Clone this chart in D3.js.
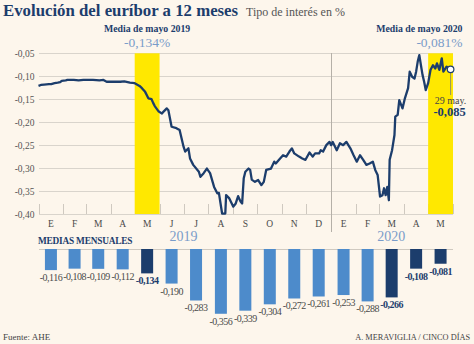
<!DOCTYPE html>
<html lang="es">
<head>
<meta charset="utf-8">
<script src="https://cdn.jsdelivr.net/npm/d3@7"></script>
<style>
  html, body { margin: 0; padding: 0; background: #fdf6ec; }
  svg { display: block; font-family: "Liberation Serif", "DejaVu Serif", serif; }
</style>
</head>
<body>
<svg id="chart" width="474" height="344"></svg>
<script>
// Euríbor a 12 meses, cotización diaria (fechas y valores en %)
const lineDates = [
  "2019-01-01","2019-01-04","2019-01-08","2019-01-14","2019-01-17","2019-01-21","2019-01-25","2019-01-28","2019-01-30",
  "2019-02-04","2019-02-06","2019-02-14","2019-02-20","2019-02-26",
  "2019-03-04","2019-03-10","2019-03-18","2019-03-23","2019-03-27",
  "2019-04-03","2019-04-13","2019-04-18","2019-04-25",
  "2019-05-01","2019-05-07","2019-05-10","2019-05-14","2019-05-16","2019-05-18","2019-05-22","2019-05-24","2019-05-26","2019-05-31",
  "2019-06-04","2019-06-06","2019-06-10","2019-06-12","2019-06-16","2019-06-22","2019-06-26",
  "2019-07-01","2019-07-03","2019-07-07","2019-07-09","2019-07-13","2019-07-20","2019-07-22","2019-07-26","2019-07-30",
  "2019-08-03","2019-08-08","2019-08-12","2019-08-14","2019-08-18","2019-08-22","2019-08-23","2019-08-27",
  "2019-09-01","2019-09-04","2019-09-07","2019-09-10","2019-09-12","2019-09-14","2019-09-16","2019-09-20","2019-09-22","2019-09-24","2019-09-28",
  "2019-10-02","2019-10-06","2019-10-09","2019-10-12","2019-10-18","2019-10-22","2019-10-24","2019-10-28",
  "2019-11-02","2019-11-06","2019-11-10","2019-11-13","2019-11-16","2019-11-22","2019-11-26","2019-11-30",
  "2019-12-05","2019-12-09","2019-12-12","2019-12-17","2019-12-19","2019-12-22","2019-12-26","2019-12-30",
  "2020-01-01","2020-01-03","2020-01-08","2020-01-12","2020-01-16","2020-01-20","2020-01-25","2020-01-29",
  "2020-02-02","2020-02-06","2020-02-10","2020-02-14","2020-02-18","2020-02-22","2020-02-25","2020-02-28",
  "2020-03-02","2020-03-05","2020-03-07","2020-03-09","2020-03-11","2020-03-13","2020-03-14","2020-03-17","2020-03-20","2020-03-21","2020-03-24","2020-03-26","2020-03-30",
  "2020-04-02","2020-04-06","2020-04-08","2020-04-11","2020-04-14","2020-04-16","2020-04-18","2020-04-20","2020-04-22","2020-04-24","2020-04-26","2020-04-28",
  "2020-05-01","2020-05-04","2020-05-07","2020-05-10","2020-05-12","2020-05-15","2020-05-18","2020-05-20","2020-05-24","2020-05-26","2020-05-29"
];
const lineValues = [
  -0.121,-0.119,-0.118,-0.117,-0.117,-0.115,-0.114,-0.113,-0.110,
  -0.109,-0.108,-0.108,-0.109,-0.108,
  -0.108,-0.108,-0.109,-0.108,-0.112,
  -0.112,-0.112,-0.111,-0.114,
  -0.115,-0.121,-0.126,-0.134,-0.141,-0.148,-0.150,-0.158,-0.165,-0.177,
  -0.181,-0.177,-0.170,-0.174,-0.210,-0.213,-0.217,
  -0.254,-0.264,-0.257,-0.279,-0.293,-0.308,-0.319,-0.311,-0.301,
  -0.311,-0.341,-0.355,-0.354,-0.399,-0.399,-0.359,-0.366,
  -0.384,-0.377,-0.361,-0.373,-0.377,-0.322,-0.308,-0.301,-0.304,-0.325,-0.330,
  -0.326,-0.337,-0.330,-0.304,-0.301,-0.286,-0.290,-0.282,
  -0.272,-0.275,-0.264,-0.257,-0.268,-0.275,-0.279,-0.282,
  -0.266,-0.275,-0.268,-0.268,-0.261,-0.264,-0.250,-0.243,
  -0.250,-0.243,-0.261,-0.246,-0.250,-0.243,-0.257,-0.272,
  -0.286,-0.272,-0.282,-0.293,-0.290,-0.286,-0.304,-0.315,
  -0.362,-0.359,-0.344,-0.359,-0.341,-0.370,-0.282,-0.261,-0.228,-0.188,-0.184,-0.152,-0.170,
  -0.148,-0.126,-0.090,-0.101,-0.105,-0.090,-0.068,-0.054,-0.076,-0.097,-0.112,-0.130,
  -0.115,-0.086,-0.076,-0.083,-0.072,-0.086,-0.061,-0.090,-0.079,-0.082,-0.085
];

// Medias mensuales (enero 2019 - mayo 2020)
const monthLabels = ["E","F","M","A","M","J","J","A","S","O","N","D","E","F","M","A","M"];
const monthlyMeans = [-0.116,-0.108,-0.109,-0.112,-0.134,-0.190,-0.283,-0.356,-0.339,-0.304,-0.272,-0.261,-0.253,-0.288,-0.266,-0.108,-0.081];
const highlightedMonths = [4, 14, 15, 16];
const yTicks = [-0.05,-0.10,-0.15,-0.20,-0.25,-0.30,-0.35,-0.40];
const mayMeans = [-0.134, -0.081];
const lastValue = { date: "2020-05-29", label: "29 may.", value: -0.085 };

const es = d3.formatLocale({ decimal: ",", thousands: ".", grouping: [3], currency: ["", " €"], minus: "-" });
const fmt2 = es.format(".2f"), fmt3 = es.format(".3f");
const parse = d3.timeParse("%Y-%m-%d");

const navy = "#1c3d6c", barBlue = "#4d8bcb", lightBlue = "#7a9cc9", yellow = "#ffe800",
      grid = "#d9d4cc", textGrey = "#4a4a4a";

const svg = d3.select("#chart");
svg.append("rect").attr("width", 474).attr("height", 344).attr("fill", "#fdf6ec");

const plotLeft = 38.5, plotRight = 453, plotTop = 53.3, plotBottom = 214;
const x = d3.scaleTime().domain([new Date(2019, 0, 1), new Date(2020, 5, 1)]).range([plotLeft, plotRight]);
const y = d3.scaleLinear().domain([-0.40, -0.05]).range([plotBottom, plotTop]);
const yb = d3.scaleLinear().domain([0, -0.36]).range([249, 314.5]);

// Título
svg.append("text").attr("x", 3).attr("y", 15.5).attr("fill", navy)
  .attr("font-size", 16.8).attr("font-weight", "bold").text("Evolución del euríbor a 12 meses");
svg.append("text").attr("x", 246).attr("y", 15.5).attr("fill", "#555")
  .attr("font-size", 12).text("Tipo de interés en %");

// Eje Y con rejilla
const yAxis = svg.append("g").attr("transform", `translate(${plotLeft},0)`)
  .call(d3.axisLeft(y).tickValues(yTicks).tickFormat(fmt2).tickSize(-(plotRight - plotLeft)).tickPadding(4));
yAxis.select(".domain").remove();
yAxis.selectAll("line").attr("stroke", grid).attr("shape-rendering", "crispEdges");
yAxis.selectAll("text").attr("fill", "#555").attr("font-size", 9.5)
  .attr("font-family", "Liberation Serif");

// Marcas de meses
const xAxis = svg.append("g").attr("transform", `translate(0,${plotBottom})`)
  .call(d3.axisBottom(x).ticks(d3.timeMonth.every(1)).tickSize(-10).tickFormat(""));
xAxis.select(".domain").remove();
xAxis.selectAll("line").attr("stroke", "#cfc9c0").attr("shape-rendering", "crispEdges");

// Bandas de mayo
const mayBands = [new Date(2019, 4, 1), new Date(2020, 4, 1)];
svg.append("g").selectAll("rect").data(mayBands).join("rect")
  .attr("x", d => x(d)).attr("width", d => x(d3.timeMonth.offset(d, 1)) - x(d))
  .attr("y", plotTop).attr("height", plotBottom - plotTop).attr("fill", yellow);

// Separador de año
const yearStart = new Date(2020, 0, 1);
svg.append("line").attr("x1", x(yearStart)).attr("x2", x(yearStart))
  .attr("y1", plotTop).attr("y2", 232).attr("stroke", "#b5b0a8").attr("shape-rendering", "crispEdges");

// Etiquetas de mes
const monthStarts = monthLabels.map((m, i) => new Date(2019, i, 1));
const monthCenter = i => (x(monthStarts[i]) + x(d3.timeMonth.offset(monthStarts[i], 1))) / 2;
svg.append("g").selectAll("text").data(monthLabels).join("text")
  .attr("x", (d, i) => monthCenter(i)).attr("y", 227).attr("text-anchor", "middle")
  .attr("font-size", 9.5).attr("fill", textGrey).text(d => d);

// Línea diaria
const series = lineDates.map((d, i) => ({ date: parse(d), value: lineValues[i] }));
svg.append("path").datum(series)
  .attr("d", d3.line().x(d => x(d.date)).y(d => y(d.value)))
  .attr("fill", "none").attr("stroke", navy).attr("stroke-width", 2.3)
  .attr("stroke-linejoin", "round");

// Último dato
const lastDate = parse(lastValue.date);
svg.append("line").attr("x1", x(lastDate)).attr("x2", x(lastDate))
  .attr("y1", y(lastValue.value)).attr("y2", 95).attr("stroke", "#777").attr("stroke-width", 0.8);
svg.append("circle").attr("cx", x(lastDate)).attr("cy", y(lastValue.value)).attr("r", 3.3)
  .attr("fill", "#fff").attr("stroke", navy).attr("stroke-width", 1.2);
svg.append("text").attr("x", x(lastDate)).attr("y", 104).attr("text-anchor", "middle")
  .attr("font-size", 10).attr("fill", "#444").text(lastValue.label);
svg.append("text").attr("x", x(lastDate) - 1).attr("y", 115.5).attr("text-anchor", "middle")
  .attr("font-size", 12.5).attr("font-weight", "bold").attr("fill", navy).text(fmt3(lastValue.value));

// Medias de mayo
const mayTitles = ["Media de mayo 2019", "Media de mayo 2020"];
const mayAnchors = [{ x: monthCenter(4), anchor: "middle" }, { x: plotRight + 9.5, anchor: "end" }];
mayTitles.forEach((t, i) => {
  svg.append("text").attr("x", mayAnchors[i].x).attr("y", 32).attr("text-anchor", mayAnchors[i].anchor)
    .attr("font-size", 9.8).attr("font-weight", "bold").attr("fill", navy).text(t);
  svg.append("text").attr("x", mayAnchors[i].x).attr("y", 47).attr("text-anchor", mayAnchors[i].anchor)
    .attr("font-size", 13.5).attr("fill", lightBlue).text(fmt3(mayMeans[i]) + "%");
});

// Años
svg.append("text").attr("x", x(new Date(2019, 6, 1))).attr("y", 241).attr("text-anchor", "middle")
  .attr("font-size", 14).attr("fill", lightBlue).text("2019");
svg.append("text").attr("x", x(new Date(2020, 2, 16))).attr("y", 241).attr("text-anchor", "middle")
  .attr("font-size", 14).attr("fill", lightBlue).text("2020");

// Medias mensuales
svg.append("text").attr("x", 38).attr("y", 244).attr("font-size", 9.3).attr("font-weight", "bold")
  .attr("fill", navy).attr("letter-spacing", -0.2).text("MEDIAS MENSUALES");
svg.append("line").attr("x1", plotLeft).attr("x2", plotRight).attr("y1", yb(0)).attr("y2", yb(0))
  .attr("stroke", "#cfc9c0").attr("shape-rendering", "crispEdges");
const isHi = i => highlightedMonths.includes(i);
const barW = 12;
svg.append("g").selectAll("rect").data(monthlyMeans).join("rect")
  .attr("x", (d, i) => monthCenter(i) - barW / 2).attr("width", barW)
  .attr("y", yb(0)).attr("height", d => yb(d) - yb(0))
  .attr("fill", (d, i) => isHi(i) ? navy : barBlue);
svg.append("g").selectAll("text").data(monthlyMeans).join("text")
  .attr("x", (d, i) => monthCenter(i)).attr("y", d => yb(d) + 11)
  .attr("text-anchor", "middle").attr("font-size", 10).attr("letter-spacing", -0.5)
  .attr("font-weight", (d, i) => isHi(i) ? "bold" : "normal")
  .attr("fill", (d, i) => isHi(i) ? navy : textGrey).text(d => fmt3(d));

// Pie
svg.append("text").attr("x", 3).attr("y", 340).attr("font-size", 9).attr("fill", "#444").text("Fuente: AHE");
svg.append("text").attr("x", 470).attr("y", 340).attr("text-anchor", "end").attr("font-size", 8.3)
  .attr("fill", "#444").text("A. MERAVIGLIA / CINCO DÍAS");
</script>
</body>
</html>
